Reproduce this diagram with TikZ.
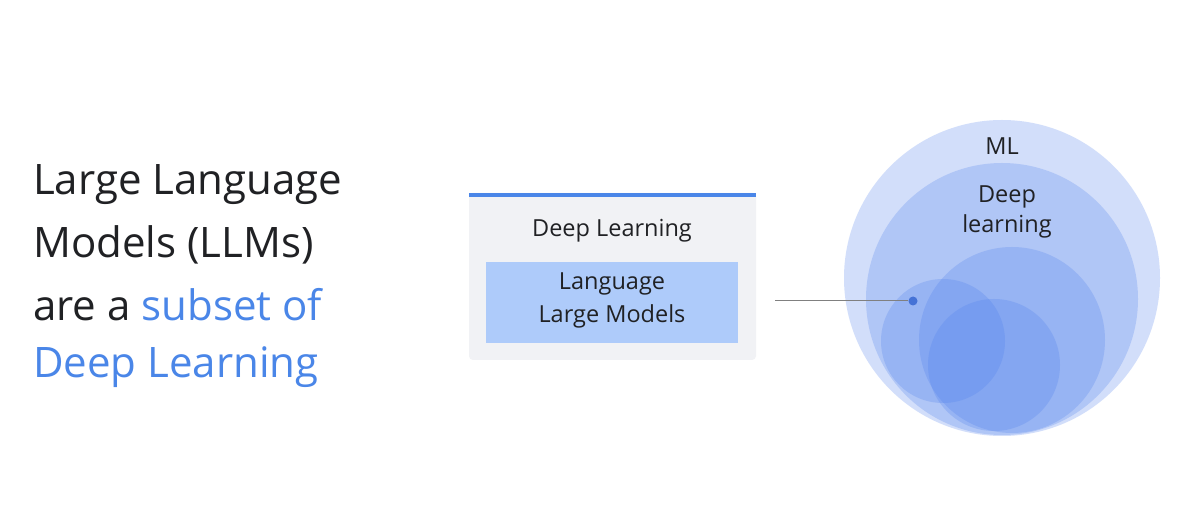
\documentclass[tikz,border=0pt]{standalone}
\usepackage{fontspec}
\setmainfont{Open Sans}
\definecolor{gblue}{HTML}{4A86E8}
\definecolor{cblue}{HTML}{4D7FEE}
\definecolor{boxgray}{HTML}{F1F2F5}
\definecolor{inner}{HTML}{AECBFA}
\definecolor{txt}{HTML}{202124}
\begin{document}
\begin{tikzpicture}[x=1pt,y=-1pt,
  circ/.style={fill=cblue,fill opacity=0.25,draw=none},
  big/.style={font=\fontsize{42}{44}\selectfont,anchor=west,text=txt,inner sep=0},
  lbl/.style={font=\fontsize{23.5}{33}\selectfont,text=txt,align=center}]
\useasboundingbox (0,0) rectangle (1200,518);
\fill[white] (0,0) rectangle (1200,518);
% left text
\node[big] (t1) at (33,185) {Large Language};
\node[big] (t2) at (33,245) {Models (LLMs)};
\node[big] (t3) at (33,305) {are a \textcolor{gblue}{subset of}};
\node[big,text=gblue] (t4) at (33,367) {Deep Learning};
% box
\fill[boxgray,rounded corners=4pt] (469,193) rectangle (756,360);
\fill[gblue] (469,193) rectangle (756,197);
\node[lbl] (dl) at (612,231) {Deep Learning};
\fill[inner] (486,262) rectangle (738,343);
\node[lbl] (llm) at (612,300) {Language\\Large Models};
% circles
\fill[circ] (1002,278) circle (158);
\fill[circ] (1002,299) circle (136);
\fill[circ] (1012,340) circle (93);
\fill[circ] (943,341) circle (62);
\fill[circ] (994,365) circle (66);
\node[lbl] (ml) at (1002,146) {ML};
\node[lbl,font=\fontsize{23.5}{30}\selectfont] (dpl) at (1007,212) {Deep\\learning};
\node[circle,fill=cblue!90!black,inner sep=0,minimum size=9pt] (dot) at (913,301) {};
\coordinate (ls) at (775,301);
\draw[gray,line width=1pt] (ls) -- (dot);
\end{tikzpicture}
\end{document}
